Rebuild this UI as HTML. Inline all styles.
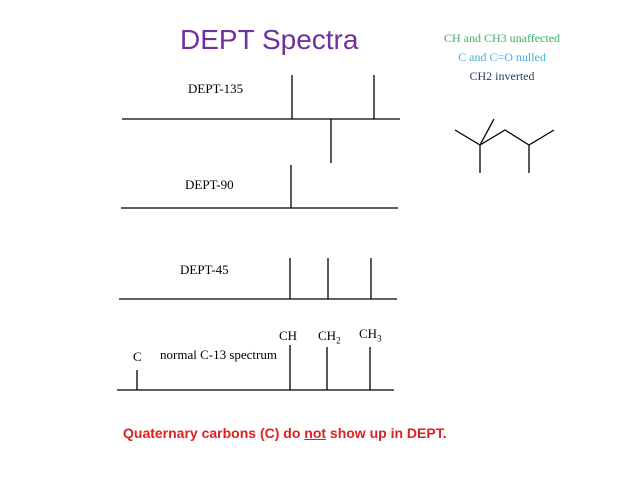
<!DOCTYPE html>
<html><head><style>
body{margin:0;width:638px;height:479px;background:#fff;position:relative;overflow:hidden;font-family:"Liberation Serif",serif}
.t{position:absolute;white-space:nowrap}
</style></head><body>
<div class="t" style="left:180px;top:24px;font:28px 'Liberation Sans',sans-serif;color:#7030a0">DEPT Spectra</div>
<div class="t" style="left:430px;top:31px;width:144px;text-align:center;font:12px 'Liberation Serif',serif;color:#3fae6a">CH and CH3 unaffected</div>
<div class="t" style="left:430px;top:50px;width:144px;text-align:center;font:12px 'Liberation Serif',serif;color:#4aaedc">C and C=O nulled</div>
<div class="t" style="left:430px;top:69px;width:144px;text-align:center;font:12px 'Liberation Serif',serif;color:#2a3a6a">CH2 inverted</div>
<div class="t" style="left:188px;top:81px;font-size:13px">DEPT-135</div>
<div class="t" style="left:185px;top:177px;font-size:13px">DEPT-90</div>
<div class="t" style="left:180px;top:262px;font-size:13px">DEPT-45</div>
<div class="t" style="left:279px;top:328px;font-size:13px">CH</div>
<div class="t" style="left:318px;top:328px;font-size:13px">CH<sub style="font-size:9px">2</sub></div>
<div class="t" style="left:359px;top:326px;font-size:13px">CH<sub style="font-size:9px">3</sub></div>
<div class="t" style="left:133px;top:349px;font-size:13px">C</div>
<div class="t" style="left:160px;top:347px;font-size:13px">normal C-13 spectrum</div>
<div class="t" style="left:123px;top:425px;font:bold 14px 'Liberation Sans',sans-serif;color:#e02020">Quaternary carbons (C) do <u>not</u> show up in DEPT.</div>
<svg width="638" height="479" style="position:absolute;left:0;top:0" stroke="#000" stroke-width="1.3" fill="none">
<line x1="122" y1="119" x2="400" y2="119"/><line x1="292" y1="75" x2="292" y2="119"/><line x1="374" y1="75" x2="374" y2="119"/><line x1="331" y1="119" x2="331" y2="163"/>
<line x1="121" y1="208" x2="398" y2="208"/><line x1="291" y1="165" x2="291" y2="208"/>
<line x1="119" y1="299" x2="397" y2="299"/><line x1="290" y1="258" x2="290" y2="299"/><line x1="328" y1="258" x2="328" y2="299"/><line x1="371" y1="258" x2="371" y2="299"/>
<line x1="117" y1="390" x2="394" y2="390"/><line x1="137" y1="370" x2="137" y2="390"/><line x1="290" y1="345" x2="290" y2="390"/><line x1="327" y1="347" x2="327" y2="390"/><line x1="370" y1="347" x2="370" y2="390"/>
<polyline points="455,130 480,145 505,130 529,145 554,130"/><line x1="480" y1="145" x2="494" y2="119"/><line x1="480" y1="145" x2="480" y2="173"/><line x1="529" y1="145" x2="529" y2="173"/>
</svg>
</body></html>
